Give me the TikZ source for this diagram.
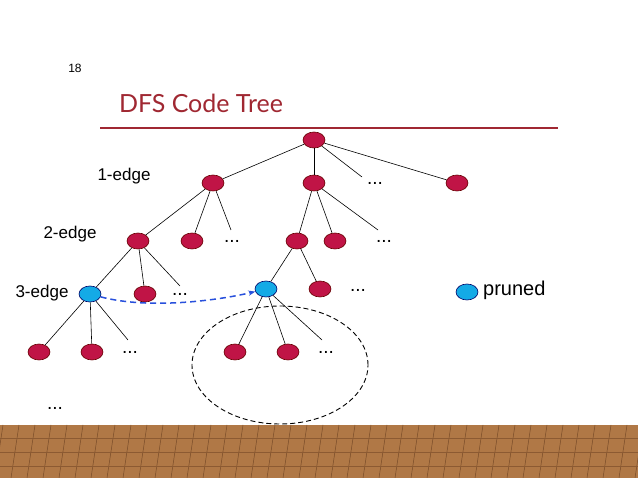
\documentclass[tikz,border=0pt]{standalone}
\usepackage{fontspec}
\setmainfont{Liberation Sans}
\newfontfamily\titlefont{Lato}
\usetikzlibrary{shapes.geometric,arrows.meta}
\definecolor{floorc}{RGB}{176,120,70}
\definecolor{plank}{RGB}{120,75,40}
\definecolor{plank2}{RGB}{140,90,50}
\definecolor{titc}{RGB}{160,40,50}
\definecolor{redn}{RGB}{192,20,70}
\definecolor{bluen}{RGB}{20,170,230}
\definecolor{arrc}{RGB}{40,80,220}
\begin{document}
\begin{tikzpicture}[x=1pt,y=-1pt,
  rn/.style={ellipse,draw=red!40!black,fill=redn,minimum width=22pt,minimum height=16pt,inner sep=0pt,line width=0.6pt},
  bn/.style={ellipse,draw=blue!40!black,fill=bluen,minimum width=22pt,minimum height=16pt,inner sep=0pt,line width=0.6pt},
  dt/.style={font=\fontsize{19}{19}\selectfont,inner sep=1pt},
  lb/.style={font=\fontsize{17}{17}\selectfont,inner sep=1pt},
  edg/.style={line width=0.6pt,black}]
\useasboundingbox (0,0) rectangle (638,478);
\fill[white] (0,0) rectangle (638,478);
\fill[floorc] (0,425) rectangle (638,478);
\foreach \i in {0,...,40} {\draw[plank,line width=0.5pt] (\i*16+3,425) -- (\i*16-5,478);}
\foreach \yy in {438,452,466} {\draw[plank2,line width=0.4pt] (0,\yy) -- (638,\yy);}
\node[font=\fontsize{12}{12}\selectfont] (pg) at (75,68) {18};
\node[font=\titlefont\fontsize{25}{25}\selectfont,text=titc] (tt) at (201,103) {DFS Code Tree};
\draw[titc,line width=1.5pt] (100,128) -- (558,128);
\node[lb] (e1) at (124,176) {1-edge};
\node[lb] (e2) at (70,234) {2-edge};
\node[lb] (e3) at (42,293) {3-edge};
\node[rn] (r) at (314,140) {};
\node[rn] (a1) at (213,183) {};
\node[rn] (a2) at (314,183) {};
\node[dt] (ad) at (375,183) {...};
\node[rn] (a3) at (457,183) {};
\node[rn] (b1) at (138,241) {};
\node[rn] (b2) at (192,241) {};
\node[dt] (bd1) at (232,241) {...};
\node[rn] (b3) at (297,241) {};
\node[rn] (b4) at (335,241) {};
\node[dt] (bd2) at (384,241) {...};
\node[bn] (c1) at (90,294) {};
\node[rn] (c2) at (145,294) {};
\node[dt] (cd1) at (180,294) {...};
\node[bn] (c3) at (266,289) {};
\node[rn] (c4) at (320,289) {};
\node[dt] (cd2) at (358,290) {...};
\node[rn] (d1) at (39,352) {};
\node[rn] (d2) at (92,352) {};
\node[dt] (dd1) at (130,352) {...};
\node[rn] (d3) at (235,352) {};
\node[rn] (d4) at (288,352) {};
\node[dt] (dd2) at (326,352) {...};
\node[dt] (en) at (55,408) {...};
\node[bn] (lg) at (467,292) {};
\node[font=\fontsize{20}{20}\selectfont,inner sep=1pt,anchor=west] (pr) at (482,290) {pruned};
\coordinate (x0) at (362,177);
\coordinate (x1) at (231,230);
\coordinate (x2) at (378,230);
\coordinate (x3) at (180,286);
\coordinate (x4) at (128,340);
\coordinate (x5) at (322,340);
\foreach \t in {a1,a2,a3} \draw[edg] (r) -- (\t);
\draw[edg] (r) -- (x0);
\draw[edg] (a1) -- (b1); \draw[edg] (a1) -- (b2); \draw[edg] (a1) -- (x1);
\draw[edg] (a2) -- (b3); \draw[edg] (a2) -- (b4); \draw[edg] (a2) -- (x2);
\draw[edg] (b1) -- (c1); \draw[edg] (b1) -- (c2); \draw[edg] (b1) -- (x3);
\draw[edg] (b3) -- (c3); \draw[edg] (b3) -- (c4);
\draw[edg] (c1) -- (d1); \draw[edg] (c1) -- (d2); \draw[edg] (c1) -- (x4);
\draw[edg] (c3) -- (d3); \draw[edg] (c3) -- (d4); \draw[edg] (c3) -- (x5);
\draw[arrc,dash pattern=on 6pt off 4pt,line width=1.5pt,-{Stealth[length=7pt]}] (c1) .. controls (150,310) and (220,300) .. (c3);
\node[ellipse,draw,dash pattern=on 5pt off 3pt,line width=0.9pt,minimum width=176pt,minimum height=118pt] (el) at (280,365) {};
\end{tikzpicture}
\end{document}
